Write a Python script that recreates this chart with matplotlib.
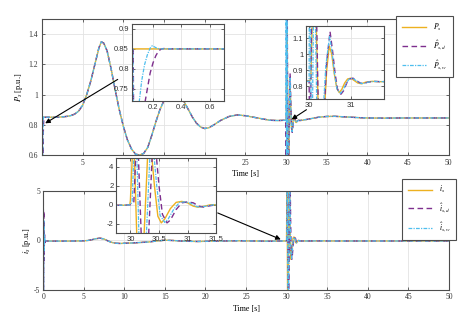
import matplotlib
matplotlib.use("Agg")
import matplotlib.pyplot as plt

# ---- data ----
# active power, slow part (same for all three curves)
p_slow_t1 = [0.5, 1, 2, 3, 3.5, 4, 4.5, 5, 5.5, 6, 6.5, 7, 7.3, 7.6, 8, 8.5, 9, 9.5, 10,
             10.5, 11, 11.5, 12, 12.5, 13, 13.5, 14, 14.5, 15, 15.5, 16, 16.5, 17, 17.5,
             18, 18.5, 19, 19.5, 20, 20.5, 21, 22, 23, 24, 25, 26, 27, 28, 29]
p_slow_v1 = [0.85, 0.85, 0.85, 0.855, 0.86, 0.87, 0.89, 0.93, 1.0, 1.09, 1.2, 1.31, 1.35,
             1.34, 1.29, 1.17, 1.03, 0.9, 0.79, 0.7, 0.64, 0.605, 0.6, 0.61, 0.65, 0.73,
             0.82, 0.9, 0.96, 0.995, 1.01, 1.005, 0.99, 0.95, 0.9, 0.85, 0.81, 0.785, 0.775,
             0.78, 0.795, 0.83, 0.855, 0.865, 0.86, 0.85, 0.84, 0.83, 0.828]
p_slow_t2 = [32.5, 33, 34, 35, 36, 37, 38, 39, 40, 42, 44, 46, 48, 50]
p_slow_v2 = [0.835, 0.84, 0.85, 0.855, 0.856, 0.853, 0.85, 0.847, 0.845, 0.844, 0.845,
             0.845, 0.845, 0.845]

# start-up transient (t = 0 .. 0.3 s)
ps_t0 = [0, 0.1, 0.2, 0.3]
ps_v0 = [0.85, 0.85, 0.85, 0.85]
psd_t0 = [0, 0.03, 0.05, 0.06, 0.07, 0.14, 0.16, 0.18, 0.2, 0.22, 0.24, 0.26, 0.28, 0.3]
psd_v0 = [1.6, 0.85, 0.85, 0.85, 0.3, 0.71, 0.75, 0.79, 0.815, 0.833, 0.845, 0.85, 0.851, 0.85]
psw_t0 = [0, 0.03, 0.05, 0.058, 0.065, 0.10, 0.12, 0.14, 0.16, 0.18, 0.195, 0.21, 0.23, 0.26, 0.3]
psw_v0 = [1.6, 0.35, 0.85, 0.85, 0.3, 0.71, 0.77, 0.81, 0.835, 0.852, 0.858, 0.855, 0.851, 0.85, 0.85]

# fault transient around t = 30 s
ps_t30 = [29.9, 30.0, 30.04, 30.1, 30.16, 30.22, 30.3, 30.36, 30.42, 30.48, 30.54, 30.6,
          30.66, 30.72, 30.78, 30.85, 30.92, 31.0, 31.08, 31.16, 31.25, 31.35, 31.5, 31.7, 32.0]
ps_v30 = [0.83, 0.835, 0.84, 1.45, 1.3, 0.62, 0.5, 0.62, 0.9, 1.05, 1.0, 0.88, 0.79, 0.76,
          0.78, 0.82, 0.845, 0.85, 0.835, 0.82, 0.815, 0.825, 0.83, 0.828, 0.83]
psd_t30 = [29.9, 30.0, 30.02, 30.08, 30.15, 30.22, 30.28, 30.35, 30.42, 30.5, 30.56, 30.62,
           30.68, 30.76, 30.82, 30.9, 30.97, 31.05, 31.13, 31.22, 31.3, 31.4, 31.55, 31.7, 32.0]
psd_v30 = [0.83, 0.83, 0.2, 1.9, 1.6, 0.65, 0.4, 0.6, 0.95, 1.14, 1.02, 0.88, 0.78, 0.75,
           0.77, 0.82, 0.845, 0.85, 0.835, 0.82, 0.815, 0.825, 0.83, 0.828, 0.83]
psw_t30 = [29.9, 30.0, 30.01, 30.06, 30.12, 30.19, 30.26, 30.33, 30.4, 30.49, 30.55, 30.61,
           30.67, 30.75, 30.81, 30.89, 30.96, 31.04, 31.12, 31.21, 31.3, 31.4, 31.55, 31.7, 32.0]
psw_v30 = [0.83, 0.83, 2.0, 0.1, 1.7, 0.55, 0.45, 0.62, 0.93, 1.11, 1.01, 0.87, 0.78, 0.755,
           0.775, 0.82, 0.845, 0.85, 0.835, 0.82, 0.815, 0.825, 0.83, 0.828, 0.83]

# stator current, slow part
i_slow_t1 = [0.3, 1, 2, 3, 4, 5, 5.5, 6, 6.5, 7, 7.5, 8, 8.5, 9, 9.5, 10, 11, 12, 13, 14,
             15, 16, 17, 18, 19, 20, 22, 24, 26, 28, 29]
i_slow_v1 = [-0.05, -0.06, -0.06, -0.06, -0.05, -0.03, 0.0, 0.08, 0.18, 0.24, 0.15, -0.05,
             -0.2, -0.28, -0.3, -0.28, -0.25, -0.2, -0.15, -0.05, 0.03, 0.0, -0.05, -0.08,
             -0.1, -0.08, -0.05, -0.03, -0.05, -0.07, -0.05]
i_slow_t2 = [32.5, 34, 36, 38, 40, 42, 44, 46, 48, 50]
i_slow_v2 = [-0.05, -0.04, -0.05, -0.05, -0.05, -0.05, -0.05, -0.05, -0.05, -0.05]

is_t0 = [0, 0.1, 0.2, 0.3]
is_v0 = [0.0, 0.0, -0.05, -0.05]
isd_t0 = [0, 0.02, 0.05, 0.08, 0.12, 0.17, 0.23, 0.3]
isd_v0 = [-6, 5, -6, 3, -2, 0.6, -0.2, -0.05]
isw_t0 = [0, 0.01, 0.03, 0.05, 0.08, 0.12, 0.18, 0.25, 0.3]
isw_v0 = [6, -6, 4, -5.5, 2, -1, 0.3, -0.1, -0.05]

is_t30 = [29.9, 29.99, 30.0, 30.04, 30.07, 30.12, 30.18, 30.24, 30.3, 30.36, 30.42, 30.48,
          30.54, 30.6, 30.7, 30.8, 30.9, 31.0, 31.1, 31.18, 31.3, 31.4, 31.5, 31.7, 32.0]
is_v30 = [-0.05, 0.0, 0.5, 6.0, 5.0, -5.0, -6.0, -3.0, 5.0, 6.0, 2.0, -1.2, -1.9, -1.5,
          -0.4, 0.25, 0.35, 0.2, -0.15, -0.25, -0.15, 0.0, 0.0, -0.05, -0.05]
isd_t30 = [29.9, 30.0, 30.06, 30.1, 30.14, 30.2, 30.26, 30.32, 30.38, 30.44, 30.5, 30.56,
           30.64, 30.7, 30.8, 30.9, 31.0, 31.1, 31.2, 31.28, 31.4, 31.5, 31.7, 32.0]
isd_v30 = [-0.05, 0.0, 0.3, 6.0, 5.0, -5.0, -6.0, -3.0, 5.0, 6.0, 2.0, -1.0, -1.9, -1.6,
           -0.5, 0.2, 0.3, 0.2, -0.15, -0.25, -0.1, 0.0, -0.05, -0.05]
isw_t30 = [29.9, 30.0, 30.03, 30.07, 30.11, 30.16, 30.22, 30.28, 30.34, 30.4, 30.46, 30.52,
           30.6, 30.66, 30.76, 30.86, 30.96, 31.06, 31.16, 31.24, 31.36, 31.46, 31.7, 32.0]
isw_v30 = [-0.05, 0.0, 0.3, 7.0, 6.0, -6.0, -7.0, -3.0, 5.0, 6.0, 2.0, -1.1, -1.85, -1.5,
           -0.45, 0.25, 0.3, 0.15, -0.2, -0.25, -0.1, 0.0, -0.05, -0.05]

p_labels = [r'$P_s$', r'$\hat{P}_{s,d}$', r'$\hat{P}_{s,w}$']
i_labels = [r'$i_s$', r'$\hat{i}_{s,d}$', r'$\hat{i}_{s,w}$']

# ---- style ----
ORANGE = '#EDB120'
PURPLE = '#7E2F8E'
CYAN = '#4DBEEE'
AX_COL = '#4d4d4d'
plt.rcParams['font.family'] = ['Liberation Serif', 'DejaVu Serif']
plt.rcParams['mathtext.fontset'] = 'stix'


def series(t0, v0, t30, v30, s1, v1, s2, v2):
    return t0 + s1 + t30 + s2, v0 + v1 + v30 + v2


p_series = [series(ps_t0, ps_v0, ps_t30, ps_v30, p_slow_t1, p_slow_v1, p_slow_t2, p_slow_v2),
            series(psd_t0, psd_v0, psd_t30, psd_v30, p_slow_t1, p_slow_v1, p_slow_t2, p_slow_v2),
            series(psw_t0, psw_v0, psw_t30, psw_v30, p_slow_t1, p_slow_v1, p_slow_t2, p_slow_v2)]
i_series = [series(is_t0, is_v0, is_t30, is_v30, i_slow_t1, i_slow_v1, i_slow_t2, i_slow_v2),
            series(isd_t0, isd_v0, isd_t30, isd_v30, i_slow_t1, i_slow_v1, i_slow_t2, i_slow_v2),
            series(isw_t0, isw_v0, isw_t30, isw_v30, i_slow_t1, i_slow_v1, i_slow_t2, i_slow_v2)]

line_styles = [dict(color=ORANGE, lw=1.0, ls='-'),
               dict(color=PURPLE, lw=1.0, ls=(0, (4, 2.5))),
               dict(color=CYAN, lw=0.9, ls=(0, (3, 1, 1, 1)))]


def draw(ax, data):
    handles = []
    for (t, v), st in zip(data, line_styles):
        h, = ax.plot(t, v, **st)
        handles.append(h)
    return handles


def set_ticks(ax, xt, yt, xl, yl):
    ax.set_xticks(xt)
    ax.set_xticklabels(xl)
    ax.set_yticks(yt)
    ax.set_yticklabels(yl)


def style_axes(ax, size, family, pad=2):
    for s in ax.spines.values():
        s.set_color(AX_COL)
        s.set_linewidth(0.8)
    ax.tick_params(direction='in', length=2.5, width=0.6, colors=AX_COL,
                   top=True, right=True, labelsize=size, pad=pad)
    for lab in ax.get_xticklabels() + ax.get_yticklabels():
        lab.set_family(family)
        lab.set_color('#333333')
    ax.grid(True, color='#e3e3e3', lw=0.6)
    ax.set_axisbelow(True)


fig = plt.figure(figsize=(4.74, 3.29), dpi=100)

# top: active power
ax1 = fig.add_axes([0.0886, 0.529, 0.858, 0.413])
h_p = draw(ax1, p_series)
ax1.set_xlim(0, 50)
ax1.set_ylim(0.6, 1.5)
set_ticks(ax1, [5, 10, 15, 20, 25, 30, 35, 40, 45, 50], [0.6, 0.8, 1.0, 1.2, 1.4],
          ['5', '10', '15', '20', '25', '30', '35', '40', '45', '50'],
          ['0.6', '0.8', '1', '1.2', '1.4'])
style_axes(ax1, 5.5, 'Liberation Serif', pad=3)
ax1.set_xlabel('Time [s]', fontsize=5.8, labelpad=2)
ax1.set_ylabel(r'$P_s$ [p.u.]', fontsize=6, labelpad=2)

# bottom: stator current
ax2 = fig.add_axes([0.091, 0.119, 0.856, 0.300])
h_i = draw(ax2, i_series)
ax2.set_xlim(0, 50)
ax2.set_ylim(-5, 5)
set_ticks(ax2, list(range(0, 51, 5)), [-5, 0, 5],
          [str(v) for v in range(0, 51, 5)], ['-5', '0', '5'])
style_axes(ax2, 5.5, 'Liberation Serif')
ax2.set_xlabel('Time [s]', fontsize=5.8, labelpad=3)
ax2.set_ylabel(r'$i_s$ [p.u.]', fontsize=6, labelpad=1)

# arrows
arrow = dict(arrowstyle='-|>', color='black', lw=0.8, mutation_scale=7)
ax1.annotate('', xy=(0.1, 0.8), xytext=(9.6, 1.11), arrowprops=arrow)
ax1.annotate('', xy=(30.4, 0.825), xytext=(32.8, 0.91), arrowprops=arrow)
ax2.annotate('', xy=(29.6, 0.0), xytext=(21.2, 2.9), arrowprops=arrow)

# insets
in1 = fig.add_axes([0.278, 0.693, 0.194, 0.234])
draw(in1, p_series)
in1.set_xlim(0.05, 0.7)
in1.set_ylim(0.72, 0.912)
set_ticks(in1, [0.2, 0.4, 0.6], [0.75, 0.8, 0.85, 0.9],
          ['0.2', '0.4', '0.6'], ['0.75', '0.8', '0.85', '0.9'])
style_axes(in1, 5.5, 'Liberation Sans')

in2 = fig.add_axes([0.646, 0.699, 0.165, 0.222])
draw(in2, p_series)
in2.set_xlim(29.93, 31.8)
in2.set_ylim(0.72, 1.175)
set_ticks(in2, [30, 31], [0.8, 0.9, 1.0, 1.1], ['30', '31'], ['0.8', '0.9', '1', '1.1'])
style_axes(in2, 5.5, 'Liberation Sans')

in3 = fig.add_axes([0.245, 0.292, 0.211, 0.228])
draw(in3, i_series)
in3.set_xlim(29.75, 31.5)
in3.set_ylim(-2.95, 4.9)
set_ticks(in3, [30, 30.5, 31, 31.5], [-2, 0, 2, 4],
          ['30', '30.5', '31', '31.5'], ['-2', '0', '2', '4'])
style_axes(in3, 5.5, 'Liberation Sans')

# legends
leg_kw = dict(fontsize=5.5, handlelength=3.2, labelspacing=0.8, borderpad=0.7,
              fancybox=False, edgecolor=AX_COL, framealpha=1, handletextpad=0.9)
l1 = fig.legend(h_p, p_labels, loc='upper left', bbox_to_anchor=(0.828, 0.962), **leg_kw)
l2 = fig.legend(h_i, i_labels, loc='upper left', bbox_to_anchor=(0.841, 0.468), **leg_kw)
for l in (l1, l2):
    l.get_frame().set_linewidth(0.8)

fig.savefig('out.png', dpi=100)
